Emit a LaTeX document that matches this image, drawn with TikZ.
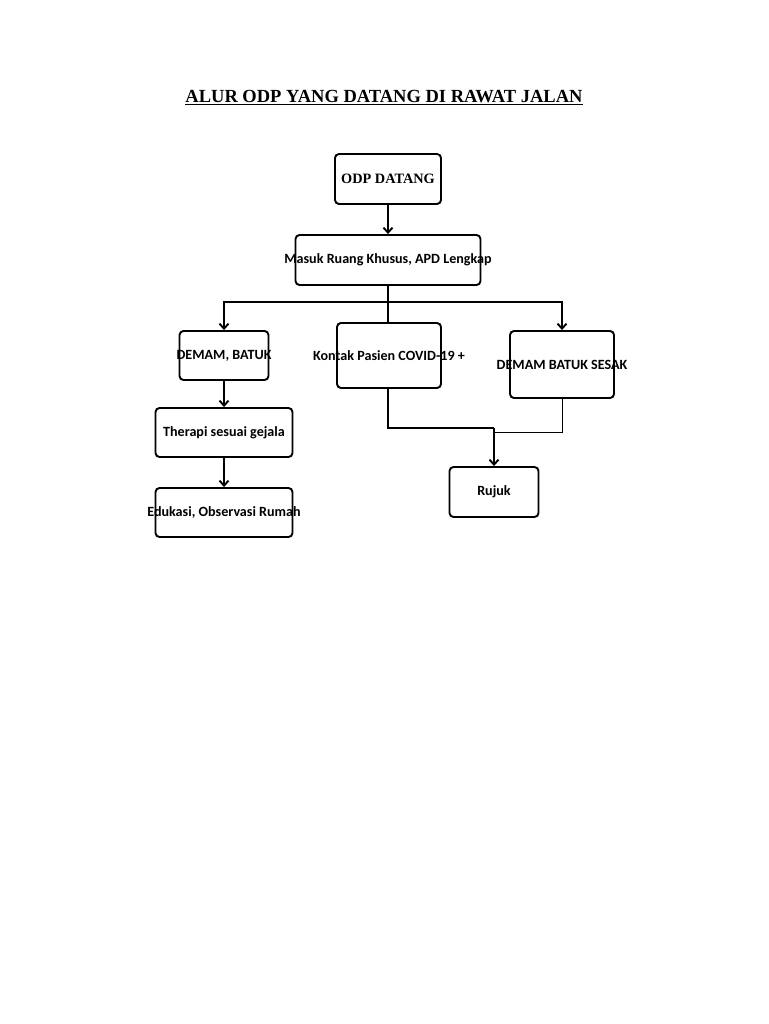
\documentclass[tikz,border=0pt]{standalone}
\usepackage{fontspec}
\setmainfont{Liberation Serif}
\newfontfamily\carlitofont{Carlito}
\usetikzlibrary{arrows.meta}
\newcommand\zw[1]{\makebox[0pt][c]{#1}}
\begin{document}
\begin{tikzpicture}[x=1pt,y=-1pt,
  box/.style={draw,line width=1.9pt,rounded corners=4pt,inner sep=0pt,font=\carlitofont\bfseries\fontsize{14.1}{16}\selectfont},
  conn/.style={line width=1.9pt},
  arr/.style={conn,-{Straight Barb[length=5pt,width=9pt]}},
  thin/.style={line width=1pt}]
\useasboundingbox (0,0) rectangle (768,1024);
\node[font=\bfseries\fontsize{18.5}{20}\selectfont,anchor=base] (title) at (384,103) {\underline{ALUR ODP YANG DATANG DI RAWAT JALAN}};
\node[box,minimum width=106pt,minimum height=50pt,font=\bfseries\fontsize{14.3}{16}\selectfont] (odp) at (388,179) {\zw{ODP DATANG}};
\node[box,minimum width=185pt,minimum height=50pt] (masuk) at (388,260) {\zw{Masuk Ruang Khusus, APD Lengkap}};
\node[box,minimum width=89pt,minimum height=49pt] (demam) at (224,355.5) {\zw{DEMAM, BATUK}};
\node[box,minimum width=104pt,minimum height=65pt] (kontak) at (389,355.5) {\zw{Kontak Pasien COVID-19 +}};
\node[box,minimum width=104pt,minimum height=67pt] (sesak) at (562,364.5) {\zw{DEMAM BATUK SESAK}};
\node[box,minimum width=137pt,minimum height=49pt] (terapi) at (224,432.5) {\zw{Therapi sesuai gejala}};
\node[box,minimum width=137pt,minimum height=49pt] (edukasi) at (224,512.5) {\zw{Edukasi, Observasi Rumah}};
\node[box,minimum width=89pt,minimum height=50pt] (rujuk) at (494,492) {\zw{Rujuk}};
\coordinate (split) at (388,302);
\coordinate (join) at (494,428);
\draw[arr] (odp) -- (masuk);
\draw[conn] (masuk.south) -- (split);
\draw[conn] (split) -- (kontak.north -| split);
\draw[arr] (split) -| (demam.north);
\draw[arr] (split) -| (sesak.north);
\draw[arr] (demam) -- (terapi);
\draw[arr] (terapi) -- (edukasi);
\draw[conn] (kontak.south -| split) |- (join);
\draw[arr] (join) -- (rujuk.north);
\draw[thin] (sesak.south) |- (494,432);
\end{tikzpicture}
\end{document}
